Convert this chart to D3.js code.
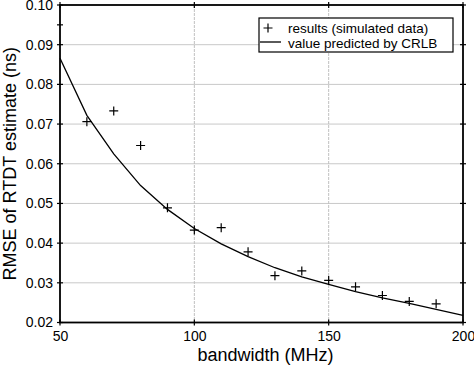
<!DOCTYPE html>
<html><head><meta charset="utf-8">
<script src="https://cdn.jsdelivr.net/npm/d3@7"></script>
<style>body{margin:0;background:#fff}svg{display:block}text{font-family:"Liberation Sans",Arial,sans-serif;fill:#000}</style>
</head><body><svg id="c" width="474" height="366"></svg>
<script>
const simBandwidth = [60,70,80,90,100,110,120,130,140,150,160,170,180,190];
const simRmse = [0.0706,0.0733,0.0646,0.0489,0.0433,0.0439,0.0378,0.0318,0.0330,0.0306,0.0290,0.0268,0.0253,0.0247];
const crlbBandwidth = [50,60,70,80,90,100,110,120,130,140,150,160,170,180,190,200];
const crlbRmse = [0.0866,0.0722,0.0625,0.0545,0.0485,0.0437,0.0398,0.0366,0.0338,0.0315,0.0296,0.0278,0.0262,0.0248,0.0233,0.0218];
const xTicks = [50,100,150,200];
const yTicks = [0.02,0.03,0.04,0.05,0.06,0.07,0.08,0.09,0.10];
const legendLabels = ["results (simulated data)","value predicted by CRLB"];

const svg = d3.select("#c");
const L=60,R=463,T=5,B=322.5;
const x = d3.scaleLinear().domain([50,200]).range([L,R]);
const y = d3.scaleLinear().domain([0.02,0.10]).range([B,T]);

// grid
svg.append("g").selectAll("line").data(yTicks.slice(1,-1)).join("line")
  .attr("x1",L).attr("x2",R).attr("y1",d=>y(d)).attr("y2",d=>y(d))
  .attr("stroke","#c8c8c8").attr("stroke-width",1);
svg.append("g").selectAll("line").data(xTicks.slice(1,-1)).join("line")
  .attr("y1",T).attr("y2",B).attr("x1",d=>x(d)).attr("x2",d=>x(d))
  .attr("stroke","#c0c0c0").attr("stroke-width",1).attr("stroke-dasharray","3,1");

// axes (ticks crossing)
const ax = svg.append("g");
ax.append("g").attr("transform",`translate(0,${B})`).call(d3.axisBottom(x).tickValues(xTicks).tickSize(0).tickPadding(9).tickFormat(d3.format("d")))
  .call(g=>g.select(".domain").remove()).selectAll("text").attr("font-size",14).attr("font-family","Liberation Sans, Arial, sans-serif");
ax.append("g").attr("transform",`translate(${L},0)`).call(d3.axisLeft(y).tickValues(yTicks).tickSize(0).tickPadding(7).tickFormat(d3.format(".2f")))
  .call(g=>g.select(".domain").remove()).selectAll("text").attr("font-size",14).attr("font-family","Liberation Sans, Arial, sans-serif");

const tk = svg.append("g").attr("stroke","#000").attr("stroke-width",1.2);
yTicks.forEach(v=>{
  tk.append("line").attr("x1",L-3).attr("x2",L+3).attr("y1",y(v)).attr("y2",y(v));
  tk.append("line").attr("x1",R-3).attr("x2",R+3).attr("y1",y(v)).attr("y2",y(v));
});
tk.append("line").attr("x1",L-3).attr("x2",L+3).attr("y1",y(0.095)).attr("y2",y(0.095));
xTicks.forEach(v=>{
  tk.append("line").attr("x1",x(v)).attr("x2",x(v)).attr("y1",B-3).attr("y2",B+3);
  tk.append("line").attr("x1",x(v)).attr("x2",x(v)).attr("y1",T-3).attr("y2",T+3);
});
svg.append("rect").attr("x",L).attr("y",T).attr("width",R-L).attr("height",B-T)
  .attr("fill","none").attr("stroke","#000").attr("stroke-width",1.8);

// CRLB line
const crlb = crlbBandwidth.map((b,i)=>[b,crlbRmse[i]]);
svg.append("path").datum(crlb).attr("fill","none").attr("stroke","#000").attr("stroke-width",1.3)
  .attr("d",d3.line().x(d=>x(d[0])).y(d=>y(d[1])));

// crosses
svg.append("g").selectAll("path").data(simBandwidth.map((b,i)=>[b,simRmse[i]])).join("path")
  .attr("transform",d=>`translate(${x(d[0])},${y(d[1])})`)
  .attr("d","M-4.5,0H4.5M0,-4.5V4.5").attr("stroke","#000").attr("stroke-width",1.2).attr("fill","none");

// legend
const lg = svg.append("g");
lg.append("rect").attr("x",259).attr("y",18).attr("width",194).attr("height",34).attr("fill","#fff").attr("stroke","#000").attr("stroke-width",1.2);
lg.append("path").attr("d","M263.5,28H272.5M268,23.5V32.5").attr("stroke","#000").attr("stroke-width",1.2);
lg.append("line").attr("x1",260).attr("x2",281).attr("y1",42).attr("y2",42).attr("stroke","#000").attr("stroke-width",1.3);
lg.append("text").attr("x",288).attr("y",33).attr("font-size",13.5).text(legendLabels[0]);
lg.append("text").attr("x",288).attr("y",47.5).attr("font-size",13.5).text(legendLabels[1]);

// titles
svg.append("text").attr("x",(L+R)/2+4).attr("y",361).attr("text-anchor","middle").attr("font-size",18).text("bandwidth (MHz)");
svg.append("text").attr("transform",`translate(16,${(T+B)/2}) rotate(-90)`).attr("text-anchor","middle").attr("font-size",18).text("RMSE of RTDT estimate (ns)");
</script></body></html>
